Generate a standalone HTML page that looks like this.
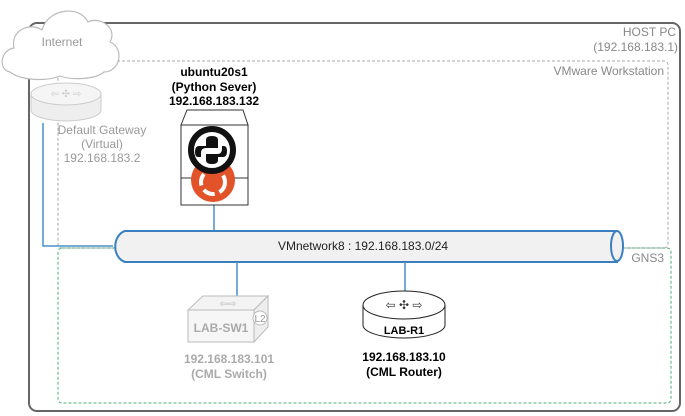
<!DOCTYPE html><html><head><style>body{margin:0;background:#fff}svg{display:block}</style></head><body>
<svg width="685" height="416" viewBox="0 0 685 416" font-family="Liberation Sans, sans-serif">
<rect x="29" y="23" width="651" height="388" rx="8" fill="#fff" stroke="#666" stroke-width="2"/>
<rect x="58" y="61" width="610" height="187" rx="4" fill="none" stroke="#aaa" stroke-dasharray="3,2"/>
<rect x="58" y="248" width="613" height="155" rx="4" fill="none" stroke="#4caf7a" stroke-dasharray="3,2"/>
<text x="676" y="36" font-size="12" fill="#888" text-anchor="end">HOST PC</text>
<text x="678" y="51" font-size="12" fill="#888" text-anchor="end">(192.168.183.1)</text>
<text x="664" y="75" font-size="12" fill="#888" text-anchor="end">VMware Workstation</text>
<text x="664" y="262" font-size="12" fill="#888" text-anchor="end">GNS3</text>
<!-- cloud -->
<path d="M10,72 C-2,70 0,50 14,48 C10,30 30,22 42,30 C48,8 80,5 88,22 C100,16 118,28 110,42 C125,48 120,72 104,72 C95,80 70,80 60,76 C45,82 20,80 10,72 Z" fill="#fff" stroke="#bbb" stroke-width="1.2"/>
<text x="62" y="46" font-size="12" fill="#999" text-anchor="middle">Internet</text>
<!-- default gateway router -->
<path d="M31,94 v16 a35,11 0 0 0 70,0 v-16" fill="#eee" stroke="#ccc"/>
<ellipse cx="66" cy="94" rx="35" ry="11" fill="#f5f5f5" stroke="#ccc"/>
<text x="66" y="97" font-size="10" fill="#ccc" text-anchor="middle">⇦ ✣ ⇨</text>
<text x="102" y="134" font-size="12" fill="#999" text-anchor="middle">Default Gateway</text>
<text x="102" y="148" font-size="12" fill="#999" text-anchor="middle">(Virtual)</text>
<text x="102" y="162" font-size="12" fill="#999" text-anchor="middle">192.168.183.2</text>
<polyline points="43,123 43,246 113,246" fill="none" stroke="#4a90c8" stroke-width="1.5"/>
<!-- server -->
<text x="214" y="76" font-size="12" font-weight="bold" text-anchor="middle">ubuntu20s1</text>
<text x="214" y="91" font-size="12" font-weight="bold" text-anchor="middle">(Python Sever)</text>
<text x="214" y="105" font-size="12" font-weight="bold" text-anchor="middle">192.168.183.132</text>
<line x1="214" y1="205" x2="214" y2="231" stroke="#4a90c8" stroke-width="1.5"/>
<path d="M181,125 L187,110 L243,110 L248,125 Z" fill="#fff" stroke="#333"/>
<rect x="181" y="125" width="67" height="80" fill="#fff" stroke="#333"/>
<line x1="181" y1="178" x2="248" y2="178" stroke="#333"/>
<circle cx="213" cy="180" r="22" fill="#e2532a"/>
<circle cx="213" cy="182" r="12" fill="none" stroke="#fff" stroke-width="4" stroke-dasharray="12,5"/>
<circle cx="212" cy="150" r="21" fill="#fff" stroke="#111" stroke-width="6"/>
<path d="M206,140 q0,-4 6,-4 q6,0 6,4 v8 h-12 q-5,0 -5,5 v4 h-3 q-3,0 -3,-5 q0,-6 4,-6 h7 z" fill="#111"/>
<path d="M218,160 q0,4 -6,4 q-6,0 -6,-4 v-6 h11 q5,0 5,-5 v-3 h2 q3,0 3,5 q0,6 -4,6 h-5 z" fill="#111"/>
<!-- pipe -->
<path d="M125,231 H617 V262 H125 A13,16 0 0 1 125,231 Z" fill="#f1f1f1" stroke="#3a7fc0" stroke-width="2"/>
<ellipse cx="617" cy="246" rx="6" ry="15" fill="#f1f1f1" stroke="#3a7fc0" stroke-width="2"/>
<text x="363" y="250" font-size="12" fill="#222" text-anchor="middle">VMnetwork8 : 192.168.183.0/24</text>
<!-- switch -->
<line x1="237" y1="262" x2="237" y2="300" stroke="#4a90c8" stroke-width="1.5"/>
<path d="M188,310 L203,296 L268,296 L254,310 Z" fill="#f3f3f3" stroke="#bbb"/>
<path d="M254,310 L268,296 L268,327 L254,342 Z" fill="#eee" stroke="#bbb"/>
<rect x="188" y="310" width="66" height="32" fill="#f6f6f6" stroke="#bbb"/>
<text x="228" y="307" font-size="10" fill="#bbb" text-anchor="middle">⇦⇨</text>
<circle cx="260" cy="318" r="7" fill="#fff" stroke="#bbb"/>
<text x="260" y="322" font-size="10" fill="#999" text-anchor="middle">L2</text>
<text x="221" y="332" font-size="12" font-weight="bold" fill="#aaa" text-anchor="middle">LAB-SW1</text>
<text x="229" y="363" font-size="12" font-weight="bold" fill="#aaa" text-anchor="middle">192.168.183.101</text>
<text x="229" y="378" font-size="12" font-weight="bold" fill="#aaa" text-anchor="middle">(CML Switch)</text>
<!-- router -->
<line x1="405" y1="262" x2="405" y2="292" stroke="#4a90c8" stroke-width="1.5"/>
<path d="M363,305 v20 a41,13 0 0 0 82,0 v-20" fill="#fff" stroke="#222"/>
<ellipse cx="404" cy="305" rx="41" ry="14" fill="#fff" stroke="#222"/>
<text x="404" y="309" font-size="12" fill="#333" text-anchor="middle">⇦ ✣ ⇨</text>
<text x="404" y="334" font-size="11" font-weight="bold" text-anchor="middle">LAB-R1</text>
<text x="404" y="361" font-size="12" font-weight="bold" text-anchor="middle">192.168.183.10</text>
<text x="404" y="376" font-size="12" font-weight="bold" text-anchor="middle">(CML Router)</text>
</svg></body></html>
